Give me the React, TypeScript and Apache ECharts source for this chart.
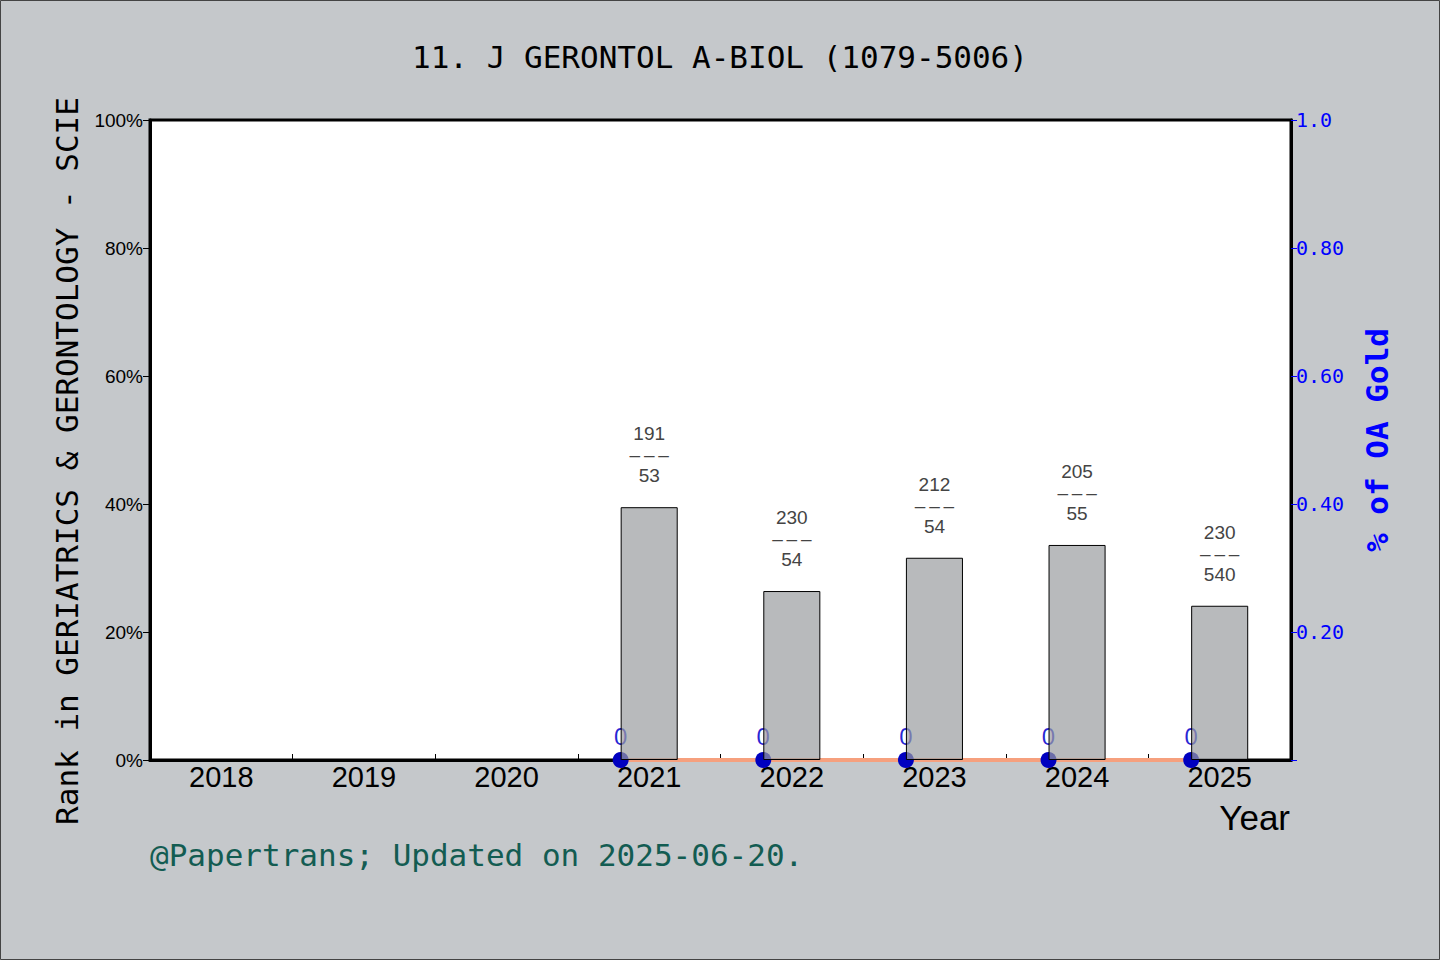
import React, { useEffect, useRef } from 'react';
import * as echarts from 'echarts';

const years = ['2018', '2019', '2020', '2021', '2022', '2023', '2024', '2025'];
// bar height (% rank), null where no data
const rankPct = [null, null, null, 39.5, 26.4, 31.6, 33.6, 24.1];
const rankNum = [null, null, null, 191, 230, 212, 205, 230];
const rankTotal = [null, null, null, 53, 54, 54, 55, 540];
// % of OA Gold (right axis)
const oaGold = [null, null, null, 0, 0, 0, 0, 0];

const MONO = '"DejaVu Sans Mono", monospace';
const SANS = '"Liberation Sans", Arial, sans-serif';

export default function App() {
  const elRef = useRef<HTMLDivElement>(null);

  useEffect(() => {
    document.body.style.margin = '0';
    if (!elRef.current) return;
    const chart = echarts.init(elRef.current, null, { renderer: 'svg' });

    const linePts = oaGold
      .map((v, i) => (v === null ? null : [i - 0.2, v]))
      .filter(Boolean) as [number, number][];

    chart.setOption({
      animation: false,
      backgroundColor: '#c5c8cb',
      title: {
        text: '11. J GERONTOL A-BIOL (1079-5006)',
        left: 'center',
        top: 36,
        textStyle: { fontFamily: MONO, fontSize: 31, fontWeight: 'normal', color: '#000' },
      },
      grid: {
        left: 150,
        right: 149,
        top: 120,
        bottom: 200,
        show: true,
        backgroundColor: '#fff',
        borderColor: '#000',
        borderWidth: 3,
      },
      xAxis: [
        {
          type: 'category',
          data: years,
          boundaryGap: true,
          axisLine: { show: true, onZero: false, lineStyle: { color: '#000', width: 3 } },
          axisTick: { show: true, inside: true, length: 6, lineStyle: { color: '#000', width: 1 } },
          axisLabel: { color: '#000', fontSize: 29, fontFamily: SANS, margin: 2 },
          splitLine: { show: false },
        },
        {
          type: 'value',
          min: -0.5,
          max: 7.5,
          show: false,
        },
      ],
      yAxis: [
        {
          type: 'value',
          min: 0,
          max: 100,
          interval: 20,
          axisLine: { show: true, onZero: false, lineStyle: { color: '#000', width: 3 } },
          axisTick: { show: true, length: 7, lineStyle: { color: '#000', width: 1 } },
          axisLabel: { formatter: '{value}%', color: '#000', fontSize: 19, fontFamily: SANS, margin: 7 },
          splitLine: { show: false },
        },
        {
          type: 'value',
          min: 0,
          max: 1,
          interval: 0.2,
          position: 'right',
          name: '% of OA Gold',
          nameLocation: 'middle',
          nameGap: 70,
          nameRotate: 90,
          nameTextStyle: { fontFamily: MONO, fontSize: 31, color: '#0000ff', fontWeight: 'bold' },
          axisLine: { show: true, onZero: false, lineStyle: { color: '#000', width: 3 } },
          axisTick: { show: true, length: 6, lineStyle: { color: '#0000ff', width: 1 } },
          axisLabel: {
            color: '#0000ff',
            fontSize: 20,
            fontFamily: MONO,
            margin: 5,
            formatter: (v: number) => (v === 0 ? '' : v === 1 ? '1.0' : v.toFixed(2)),
          },
          splitLine: { show: false },
        },
      ],
      series: [
        {
          type: 'line',
          xAxisIndex: 1,
          yAxisIndex: 1,
          data: linePts,
          symbol: 'circle',
          symbolSize: 16,
          itemStyle: { color: '#0000c0' },
          lineStyle: { color: '#f6a07e', width: 4 },
          label: {
            show: true,
            position: 'top',
            distance: 4,
            formatter: (p: any) => String(p.data[1]),
            color: 'rgba(0,0,205,0.85)',
            fontFamily: SANS,
            fontSize: 24,
          },
          z: 2,
        },
        {
          type: 'bar',
          data: rankPct,
          barWidth: '40%',
          itemStyle: { color: 'rgba(154,156,159,0.7)', borderColor: '#000', borderWidth: 1 },
          label: {
            show: true,
            position: 'top',
            distance: 21,
            color: '#444',
            fontFamily: SANS,
            fontSize: 19,
            lineHeight: 21,
            formatter: (p: any) =>
              `${rankNum[p.dataIndex]}\n–\u2009–\u2009–\n${rankTotal[p.dataIndex]}`,
          },
          z: 3,
        },
      ],
      graphic: [
        {
          type: 'text',
          rotation: Math.PI / 2,
          x: 67,
          y: 461,
          style: {
            text: 'Rank in GERIATRICS & GERONTOLOGY - SCIE',
            font: `31px ${MONO}`,
            fill: '#000',
            align: 'center',
            verticalAlign: 'middle',
          },
        },
        {
          type: 'text',
          x: 1290,
          y: 817,
          style: {
            text: 'Year',
            font: `35px ${SANS}`,
            fill: '#000',
            align: 'right',
            verticalAlign: 'middle',
          },
        },
        {
          type: 'text',
          x: 150,
          y: 855,
          style: {
            text: '@Papertrans; Updated on 2025-06-20.',
            font: `31px ${MONO}`,
            fill: '#135c52',
            align: 'left',
            verticalAlign: 'middle',
          },
        },
        {
          type: 'rect',
          shape: { x: 0.5, y: 0.5, width: 1439, height: 959 },
          style: { fill: 'none', stroke: '#444', lineWidth: 1 },
          silent: true,
        },
      ],
    });

    return () => chart.dispose();
  }, []);

  return <div ref={elRef} style={{ width: 1440, height: 960 }} />;
}
